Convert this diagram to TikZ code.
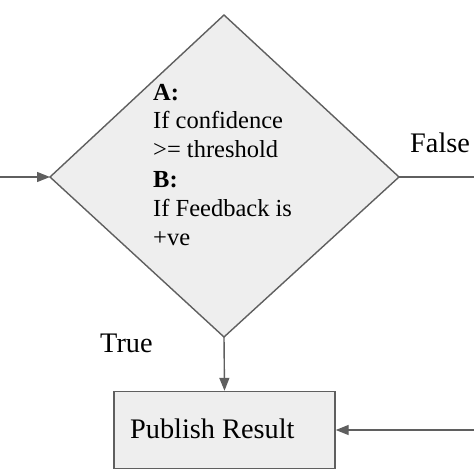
\documentclass[tikz,border=0pt]{standalone}
\usepackage{fontspec}
\setmainfont{Liberation Serif}
\usetikzlibrary{arrows.meta}
\definecolor{shapefill}{HTML}{EEEEEE}
\definecolor{shapeline}{HTML}{5F5F5F}
\begin{document}
\begin{tikzpicture}[x=1pt,y=-1pt,
  shapestyle/.style={draw=shapeline,fill=shapefill,line width=1.4pt},
  conn/.style={draw=shapeline,line width=1.4pt},
  arr/.style={conn,-{Triangle[length=13pt,width=10pt]}},
  txt/.style={inner sep=0pt,anchor=base west,font=\fontsize{24.5}{29}\selectfont},
  lbl/.style={inner sep=0pt,anchor=base west,font=\fontsize{28.3}{32}\selectfont}]
\useasboundingbox (0,0) rectangle (474,474);
\coordinate (dt) at (224,15);
\coordinate (dl) at (50,177);
\coordinate (dr) at (399,177);
\coordinate (db) at (224,337);
\filldraw[shapestyle] (dt) -- (dr) -- (db) -- (dl) -- cycle;
\node[shapestyle,minimum width=221pt,minimum height=77pt,inner sep=0pt] (box) at (224.5,430) {};
\node[lbl] (pub) at (130,438) {Publish Result};
\node[txt] (t1) at (153,100) {\textbf{A:}};
\node[txt] (t2) at (153,128.5) {If confidence};
\node[txt] (t3) at (153,157) {>= threshold};
\node[txt] (t4) at (153,187) {\textbf{B:}};
\node[txt] (t5) at (153,216.5) {If Feedback is};
\node[txt] (t6) at (153,245) {+ve};
\node[lbl] (true) at (100,352) {True};
\node[lbl] (false) at (410,152) {False};
\coordinate (inl) at (0,177);
\coordinate (outr) at (474,177);
\coordinate (inr) at (474,430);
\draw[arr] (inl) -- (dl);
\draw[conn] (dr) -- (outr);
\draw[arr] (db) -- (box.north);
\draw[arr] (inr) -- (box.east);
\end{tikzpicture}
\end{document}
